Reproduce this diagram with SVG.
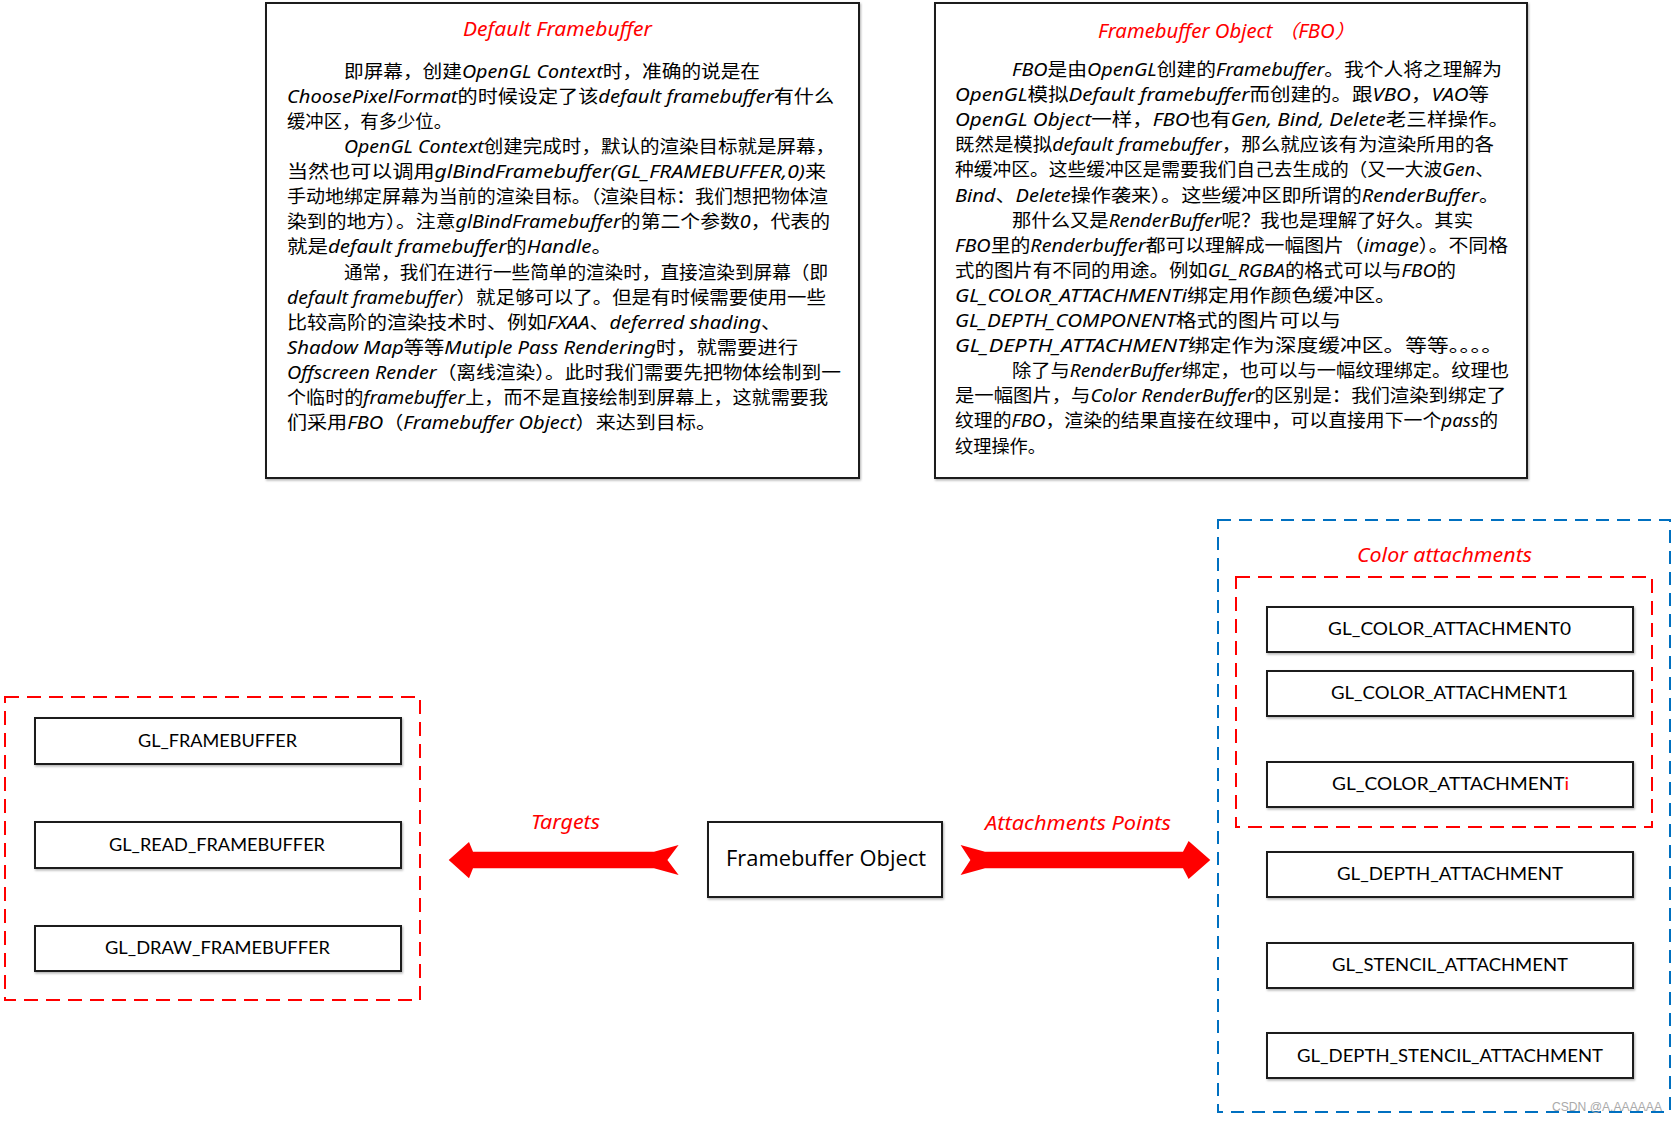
<svg xmlns="http://www.w3.org/2000/svg" width="1677" height="1121" viewBox="0 0 1677 1121">
<style>
.box{fill:#fff;stroke:#1a1a1a;stroke-width:2}
.body{font-family:"Noto Sans","Noto Sans CJK SC",sans-serif;font-size:18px;fill:#000}
.e{font-style:italic}
.title{font-family:"Noto Sans","Noto Sans CJK SC",sans-serif;font-style:italic;font-size:19px;fill:#f00}
.lbl{font-family:Lato,"Open Sans",sans-serif;font-size:18px;fill:#000}
.rd{fill:none;stroke:#f00;stroke-width:2;stroke-dasharray:14 8}
.bd{fill:none;stroke:#0070c0;stroke-width:2;stroke-dasharray:13 8}
.arrow{fill:#f00}
</style>
<defs>
<filter id="sh" x="-5%" y="-5%" width="110%" height="120%">
<feDropShadow dx="1" dy="1.5" stdDeviation="1" flood-color="#000" flood-opacity="0.3"/>
</filter>
</defs>
<rect width="1677" height="1121" fill="#fff"/>

<g id="default-framebuffer">
<rect class="box" x="266" y="3" width="593" height="475" filter="url(#sh)"/>
<text class="title" x="463" y="36" textLength="189" lengthAdjust="spacingAndGlyphs">Default Framebuffer</text>
<g class="body">
<text x="344" y="78" textLength="416" lengthAdjust="spacingAndGlyphs">即屏幕，创建<tspan class="e">OpenGL Context</tspan>时，准确的说是在</text>
<text x="287" y="103.1" textLength="547" lengthAdjust="spacingAndGlyphs"><tspan class="e">ChoosePixelFormat</tspan>的时候设定了该<tspan class="e">default framebuffer</tspan>有什么</text>
<text x="287" y="128.1" textLength="165" lengthAdjust="spacingAndGlyphs">缓冲区，有多少位。</text>
<text x="344" y="153.2" textLength="491" lengthAdjust="spacingAndGlyphs"><tspan class="e">OpenGL Context</tspan>创建完成时，默认的渲染目标就是屏幕，</text>
<text x="287" y="178.2" textLength="539" lengthAdjust="spacingAndGlyphs">当然也可以调用<tspan class="e">glBindFramebuffer(GL_FRAMEBUFFER,0)</tspan>来</text>
<text x="287" y="203.3" textLength="541" lengthAdjust="spacingAndGlyphs">手动地绑定屏幕为当前的渲染目标。（渲染目标：我们想把物体渲</text>
<text x="287" y="228.4" textLength="543" lengthAdjust="spacingAndGlyphs">染到的地方）。注意<tspan class="e">glBindFramebuffer</tspan>的第二个参数<tspan class="e">0</tspan>，代表的</text>
<text x="287" y="253.4" textLength="325" lengthAdjust="spacingAndGlyphs">就是<tspan class="e">default framebuffer</tspan>的<tspan class="e">Handle</tspan>。</text>
<text x="344" y="278.5" textLength="484" lengthAdjust="spacingAndGlyphs">通常，我们在进行一些简单的渲染时，直接渲染到屏幕（即</text>
<text x="287" y="303.5" textLength="539" lengthAdjust="spacingAndGlyphs"><tspan class="e">default framebuffer</tspan>）就足够可以了。但是有时候需要使用一些</text>
<text x="287" y="328.6" textLength="494" lengthAdjust="spacingAndGlyphs">比较高阶的渲染技术时、例如<tspan class="e">FXAA</tspan>、<tspan class="e">deferred shading</tspan>、</text>
<text x="287" y="353.7" textLength="511" lengthAdjust="spacingAndGlyphs"><tspan class="e">Shadow Map</tspan>等等<tspan class="e">Mutiple Pass Rendering</tspan>时，就需要进行</text>
<text x="287" y="378.7" textLength="554" lengthAdjust="spacingAndGlyphs"><tspan class="e">Offscreen Render</tspan>（离线渲染）。此时我们需要先把物体绘制到一</text>
<text x="287" y="403.8" textLength="541" lengthAdjust="spacingAndGlyphs">个临时的<tspan class="e">framebuffer</tspan>上，而不是直接绘制到屏幕上，这就需要我</text>
<text x="287" y="428.8" textLength="429" lengthAdjust="spacingAndGlyphs">们采用<tspan class="e">FBO</tspan>（<tspan class="e">Framebuffer Object</tspan>）来达到目标。</text>
</g>
</g>

<g id="fbo-description">
<rect class="box" x="935" y="3" width="592" height="475" filter="url(#sh)"/>
<text class="title" x="1098" y="38" textLength="257" lengthAdjust="spacingAndGlyphs">Framebuffer Object （FBO）</text>
<g class="body">
<text x="1012" y="76" textLength="490" lengthAdjust="spacingAndGlyphs"><tspan class="e">FBO</tspan>是由<tspan class="e">OpenGL</tspan>创建的<tspan class="e">Framebuffer</tspan>。我个人将之理解为</text>
<text x="955" y="101.1" textLength="534" lengthAdjust="spacingAndGlyphs"><tspan class="e">OpenGL</tspan>模拟<tspan class="e">Default framebuffer</tspan>而创建的。跟<tspan class="e">VBO</tspan>，<tspan class="e">VAO</tspan>等</text>
<text x="955" y="126.2" textLength="554" lengthAdjust="spacingAndGlyphs"><tspan class="e">OpenGL Object</tspan>一样，<tspan class="e">FBO</tspan>也有<tspan class="e">Gen, Bind, Delete</tspan>老三样操作。</text>
<text x="955" y="151.3" textLength="539" lengthAdjust="spacingAndGlyphs">既然是模拟<tspan class="e">default framebuffer</tspan>，那么就应该有为渲染所用的各</text>
<text x="955" y="176.4" textLength="539" lengthAdjust="spacingAndGlyphs">种缓冲区。这些缓冲区是需要我们自己去生成的（又一大波<tspan class="e">Gen</tspan>、</text>
<text x="955" y="201.5" textLength="544" lengthAdjust="spacingAndGlyphs"><tspan class="e">Bind</tspan>、<tspan class="e">Delete</tspan>操作袭来）。这些缓冲区即所谓的<tspan class="e">RenderBuffer</tspan>。</text>
<text x="1012" y="226.6" textLength="461" lengthAdjust="spacingAndGlyphs">那什么又是<tspan class="e">RenderBuffer</tspan>呢？我也是理解了好久。其实</text>
<text x="955" y="251.7" textLength="553" lengthAdjust="spacingAndGlyphs"><tspan class="e">FBO</tspan>里的<tspan class="e">Renderbuffer</tspan>都可以理解成一幅图片（<tspan class="e">image</tspan>）。不同格</text>
<text x="955" y="276.8" textLength="501" lengthAdjust="spacingAndGlyphs">式的图片有不同的用途。例如<tspan class="e">GL_RGBA</tspan>的格式可以与<tspan class="e">FBO</tspan>的</text>
<text x="955" y="301.9" textLength="441" lengthAdjust="spacingAndGlyphs"><tspan class="e">GL_COLOR_ATTACHMENTi</tspan>绑定用作颜色缓冲区。</text>
<text x="955" y="327" textLength="386" lengthAdjust="spacingAndGlyphs"><tspan class="e">GL_DEPTH_COMPONENT</tspan>格式的图片可以与</text>
<text x="955" y="352.1" textLength="548" lengthAdjust="spacingAndGlyphs"><tspan class="e">GL_DEPTH_ATTACHMENT</tspan>绑定作为深度缓冲区。等等。。。。</text>
<text x="1012" y="377.2" textLength="497" lengthAdjust="spacingAndGlyphs">除了与<tspan class="e">RenderBuffer</tspan>绑定，也可以与一幅纹理绑定。纹理也</text>
<text x="955" y="402.3" textLength="551" lengthAdjust="spacingAndGlyphs">是一幅图片，与<tspan class="e">Color RenderBuffer</tspan>的区别是：我们渲染到绑定了</text>
<text x="955" y="427.4" textLength="543" lengthAdjust="spacingAndGlyphs">纹理的<tspan class="e">FBO</tspan>，渲染的结果直接在纹理中，可以直接用下一个<tspan class="e">pass</tspan>的</text>
<text x="955" y="452.5" textLength="91" lengthAdjust="spacingAndGlyphs">纹理操作。</text>
</g>
</g>

<g id="targets-group">
<rect class="rd" x="5" y="697" width="415" height="303"/>
</g>
<g id="gl-framebuffer">
<rect class="box" x="35" y="718" width="366" height="46" filter="url(#sh)"/>
<text class="lbl" x="138" y="747" textLength="159" lengthAdjust="spacingAndGlyphs">GL_FRAMEBUFFER</text>
</g>
<g id="gl-read-framebuffer">
<rect class="box" x="35" y="822" width="366" height="46" filter="url(#sh)"/>
<text class="lbl" x="109" y="851" textLength="216" lengthAdjust="spacingAndGlyphs">GL_READ_FRAMEBUFFER</text>
</g>
<g id="gl-draw-framebuffer">
<rect class="box" x="35" y="926" width="366" height="45" filter="url(#sh)"/>
<text class="lbl" x="105" y="954" textLength="225" lengthAdjust="spacingAndGlyphs">GL_DRAW_FRAMEBUFFER</text>
</g>

<g id="framebuffer-object">
<rect class="box" x="708" y="822" width="234" height="75" filter="url(#sh)"/>
<text x="726" y="866" textLength="200" lengthAdjust="spacingAndGlyphs" style="font-family:'Open Sans','Noto Sans',sans-serif;font-size:21px;fill:#000">Framebuffer Object</text>
</g>

<g id="attachment-points-group">
<rect class="bd" x="1218" y="520" width="452" height="592"/>
</g>
<g id="color-attachments-group">
<rect class="rd" x="1236" y="577" width="416" height="250"/>
<text class="title" x="1357" y="562" textLength="175" lengthAdjust="spacingAndGlyphs">Color attachments</text>
</g>
<g id="color-attachment0">
<rect class="box" x="1267" y="607" width="366" height="45" filter="url(#sh)"/>
<text class="lbl" x="1328" y="635" textLength="243" lengthAdjust="spacingAndGlyphs">GL_COLOR_ATTACHMENT0</text>
</g>
<g id="color-attachment1">
<rect class="box" x="1267" y="671" width="366" height="45" filter="url(#sh)"/>
<text class="lbl" x="1331" y="699" textLength="237" lengthAdjust="spacingAndGlyphs">GL_COLOR_ATTACHMENT1</text>
</g>
<g id="color-attachmenti">
<rect class="box" x="1267" y="762" width="366" height="45" filter="url(#sh)"/>
<text class="lbl" x="1332" y="790" textLength="237" lengthAdjust="spacingAndGlyphs">GL_COLOR_ATTACHMENT<tspan fill="#f00">i</tspan></text>
</g>
<g id="depth-attachment">
<rect class="box" x="1267" y="852" width="366" height="45" filter="url(#sh)"/>
<text class="lbl" x="1337" y="880" textLength="226" lengthAdjust="spacingAndGlyphs">GL_DEPTH_ATTACHMENT</text>
</g>
<g id="stencil-attachment">
<rect class="box" x="1267" y="943" width="366" height="45" filter="url(#sh)"/>
<text class="lbl" x="1332" y="971" textLength="236" lengthAdjust="spacingAndGlyphs">GL_STENCIL_ATTACHMENT</text>
</g>
<g id="depth-stencil-attachment">
<rect class="box" x="1267" y="1033" width="366" height="45" filter="url(#sh)"/>
<text class="lbl" x="1297" y="1062" textLength="306" lengthAdjust="spacingAndGlyphs">GL_DEPTH_STENCIL_ATTACHMENT</text>
</g>

<g id="connectors">
<polygon class="arrow" points="448.7,860 469,842 473,851.7 654,851.7 678.6,845 667.4,860 678.6,875 654,868.3 473,868.3 469,878.3"/>
<text class="title" x="531" y="829" textLength="69" lengthAdjust="spacingAndGlyphs">Targets</text>
<polygon class="arrow" points="960.6,845 985,851.7 1183,851.7 1188.6,841 1210.3,860 1188.6,879 1183,868.3 985,868.3 960.6,875 970.4,860"/>
<text class="title" x="985" y="830" textLength="186" lengthAdjust="spacingAndGlyphs">Attachments Points</text>
</g>

<text x="1552" y="1111" textLength="110" lengthAdjust="spacingAndGlyphs" style="font-family:'Liberation Sans',sans-serif;font-size:13px;fill:#aaa">CSDN @A.AAAAAA</text>
</svg>
